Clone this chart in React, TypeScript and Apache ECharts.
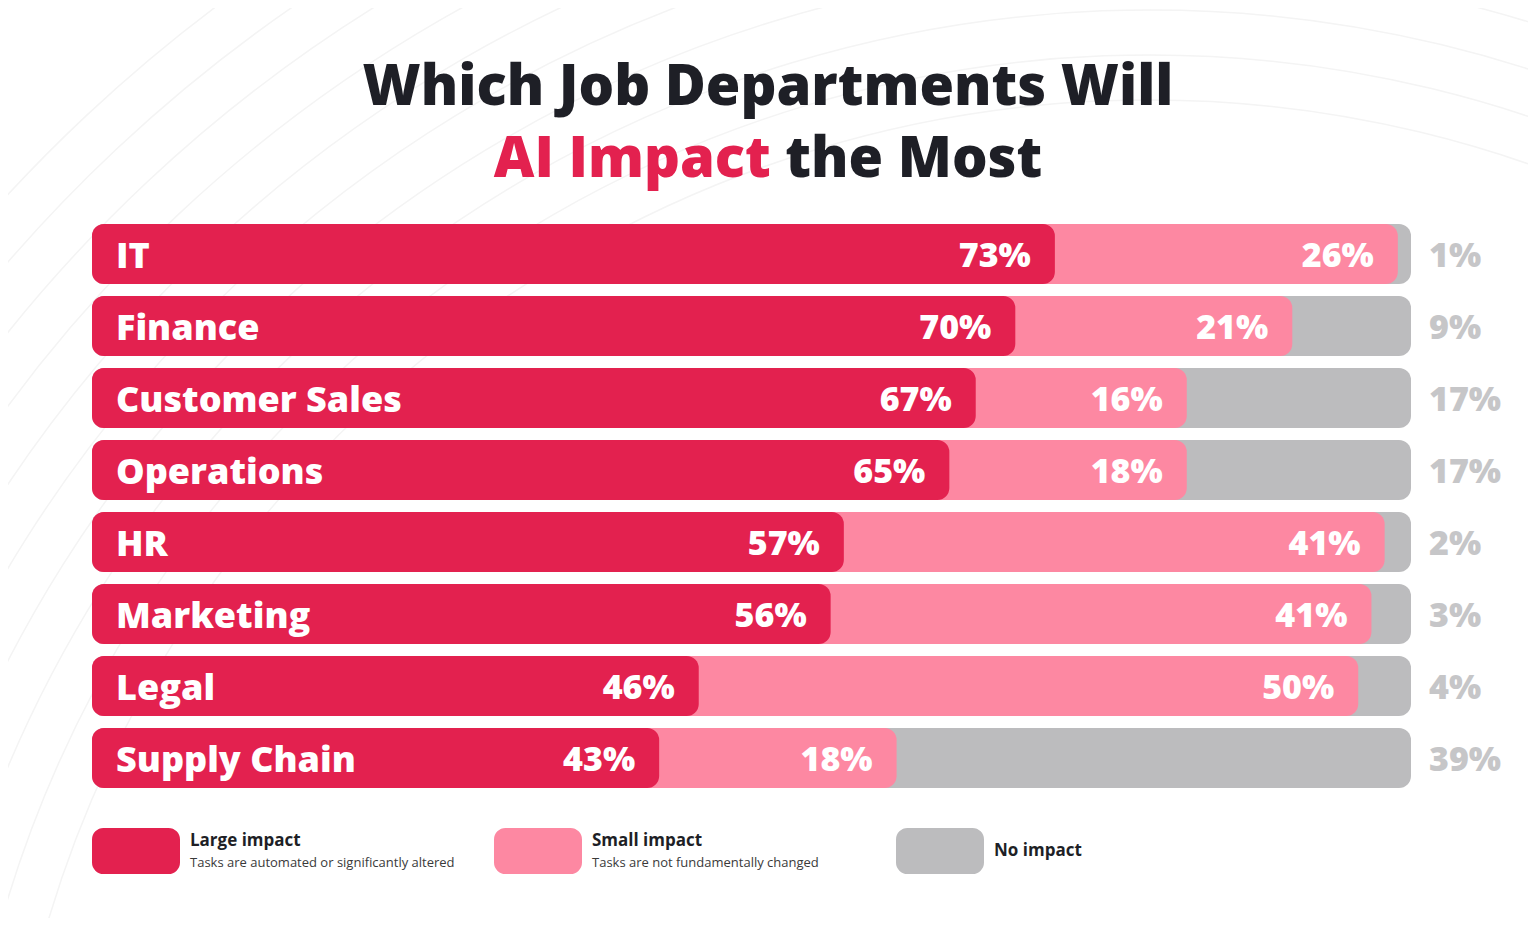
import React, { useEffect, useRef } from "react";
import * as echarts from "echarts";

const categories = ["IT", "Finance", "Customer Sales", "Operations", "HR", "Marketing", "Legal", "Supply Chain"];
const largeImpact = [73, 70, 67, 65, 57, 56, 46, 43];
const smallImpact = [26, 21, 16, 18, 41, 41, 50, 18];
const noImpact = [1, 9, 17, 17, 2, 3, 4, 39];

const RED = "#e3214f";
const PINK = "#fd88a2";
const GREY = "#bcbcbe";
const DARK = "#1e1f26";
const FONT = "'Open Sans', 'Noto Sans', sans-serif";

export default function App() {
  const ref = useRef<HTMLDivElement>(null);
  useEffect(() => {
    if (!ref.current) return;
    const chart = echarts.init(ref.current, null, { renderer: "svg" });
    const cumSmall = largeImpact.map((v, i) => v + smallImpact[i]);
    const cumAll = largeImpact.map((v, i) => v + smallImpact[i] + noImpact[i]);

    const bgArcs: any[] = [];
    for (let k = 0; k < 10; k++) {
      bgArcs.push({
        type: "circle",
        silent: true,
        z: -10,
        shape: { cx: 1150, cy: 1250, r: 1150 + k * 45 },
        style: { fill: "none", stroke: "#f4f4f4", lineWidth: 1.5 },
      });
    }

    const legendRich = {
      rich: {
        t: { fontFamily: FONT, fontWeight: 700, fontSize: 17, color: DARK, padding: [0, 0, 4, 5], lineHeight: 22 },
        s: { fontFamily: FONT, fontSize: 13, color: "#3a3a3a", padding: [0, 0, 0, 5], lineHeight: 20 },
      },
    };
    const legendBase = {
      top: 828,
      icon: "roundRect",
      itemWidth: 88,
      itemHeight: 46,
      padding: 0,
      selectedMode: false,
      textStyle: legendRich,
    };

    chart.setOption({
      animation: false,
      backgroundColor: "#ffffff",
      title: [
        {
          left: "center",
          top: 50,
          text: "Which Job Departments Will",
          textStyle: { fontFamily: FONT, fontWeight: 800, fontSize: 56, color: DARK },
        },
        {
          left: "center",
          top: 122,
          text: "{b|AI Impact}{a| the Most}",
          textStyle: {
            rich: {
              a: { fontFamily: FONT, fontWeight: 800, fontSize: 56, color: DARK },
              b: { fontFamily: FONT, fontWeight: 800, fontSize: 56, color: RED },
            },
          },
        },
      ],
      legend: [
        {
          ...legendBase,
          left: 92,
          data: ["Large impact"],
          formatter: () => "{t|Large impact}\n{s|Tasks are automated or significantly altered}",
        },
        {
          ...legendBase,
          left: 494,
          data: ["Small impact"],
          formatter: () => "{t|Small impact}\n{s|Tasks are not fundamentally changed}",
        },
        {
          ...legendBase,
          left: 896,
          data: ["No impact"],
          formatter: () => "{t|No impact}",
        },
      ],
      graphic: bgArcs,
      grid: { left: 92, right: 125, top: 218, height: 576 },
      xAxis: { type: "value", min: 0, max: 100, show: false },
      yAxis: {
        type: "category",
        inverse: true,
        data: categories,
        z: 10,
        axisLine: { show: false },
        axisTick: { show: false },
        splitLine: { show: false },
        axisLabel: {
          inside: true,
          margin: 24,
          color: "#ffffff",
          fontFamily: FONT,
          fontWeight: 800,
          fontSize: 36,
        },
      },
      series: [
        {
          name: "No impact",
          type: "bar",
          data: cumAll,
          barWidth: 60,
          barGap: "-100%",
          itemStyle: { color: GREY, borderRadius: 12 },
          label: {
            show: true,
            position: "right",
            distance: 18,
            formatter: (p: any) => noImpact[p.dataIndex] + "%",
            color: "#c6c6c8",
            fontFamily: FONT,
            fontWeight: 800,
            fontSize: 34,
          },
        },
        {
          name: "Small impact",
          type: "bar",
          data: cumSmall,
          barWidth: 60,
          barGap: "-100%",
          itemStyle: { color: PINK, borderRadius: 12 },
          label: {
            show: true,
            position: "insideRight",
            distance: 24,
            formatter: (p: any) => smallImpact[p.dataIndex] + "%",
            color: "#ffffff",
            fontFamily: FONT,
            fontWeight: 800,
            fontSize: 34,
          },
        },
        {
          name: "Large impact",
          type: "bar",
          data: largeImpact,
          barWidth: 60,
          barGap: "-100%",
          itemStyle: { color: RED, borderRadius: 12 },
          label: {
            show: true,
            position: "insideRight",
            distance: 24,
            formatter: (p: any) => p.value + "%",
            color: "#ffffff",
            fontFamily: FONT,
            fontWeight: 800,
            fontSize: 34,
          },
        },
      ],
    });
    return () => chart.dispose();
  }, []);
  return <div ref={ref} style={{ width: 1536, height: 926, margin: -8 }} />;
}
